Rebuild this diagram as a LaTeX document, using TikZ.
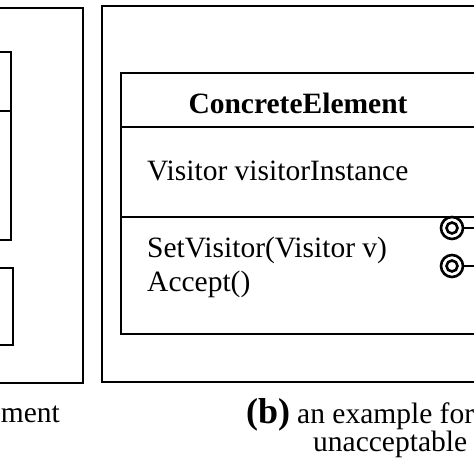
\documentclass[tikz,border=0pt]{standalone}
\usepackage{fontspec}
\setmainfont{Liberation Serif}
\begin{document}
\begin{tikzpicture}[x=1pt,y=-1pt,
  frame/.style={draw=black,line width=2.7pt},
  txt/.style={inner sep=0pt,font=\fontsize{29.5}{34}\selectfont},
  ball/.style={circle,draw=black,line width=2.6pt,minimum size=22pt,inner sep=0pt},
  core/.style={circle,draw=black,line width=2.6pt,minimum size=11pt,inner sep=0pt}]
\useasboundingbox (0,0) rectangle (474,474);
\clip (0,0) rectangle (474,474);
% left panel (cut off)
\draw[frame] (-60,8) rectangle (83,383);
\draw[frame] (-60,52) rectangle (11,240);
\draw[frame] (-60,111) -- (11,111);
\draw[frame] (-60,268) rectangle (13,345);
\node[txt,anchor=base east] (lcap) at (60,422) {Element};
% right panel
\draw[frame] (102,6) rectangle (520,382);
\draw[frame] (121,73) rectangle (520,334);
\draw[frame] (121,127) -- (520,127);
\draw[frame] (121,217) -- (520,217);
\node[txt,anchor=base,font=\fontsize{29.5}{34}\selectfont\bfseries] (title) at (298,113) {ConcreteElement};
\node[txt,anchor=base west] (attr) at (147,180) {Visitor visitorInstance};
\node[txt,anchor=base west] (op1) at (147,257) {SetVisitor(Visitor v)};
\node[txt,anchor=base west] (op2) at (147,291) {Accept()};
% provided interfaces
\node[ball] (b1) at (452,228) {};
\node[core] (c1) at (452,228) {};
\node[ball] (b2) at (452,266) {};
\node[core] (c2) at (452,266) {};
\coordinate (e1) at (490,228);
\coordinate (e2) at (490,266);
\draw[line width=2.2pt] (b1.east) -- (e1);
\draw[line width=2.2pt] (b2.east) -- (e2);
% caption
\node[txt,anchor=base west,font=\fontsize{36}{40}\selectfont\bfseries] (lab) at (246,423) {(b)};
\node[txt,anchor=base west] (cap1) at (297,423) {an example for};
\node[txt,anchor=base west] (cap2) at (313,451) {unacceptable};
\end{tikzpicture}
\end{document}
